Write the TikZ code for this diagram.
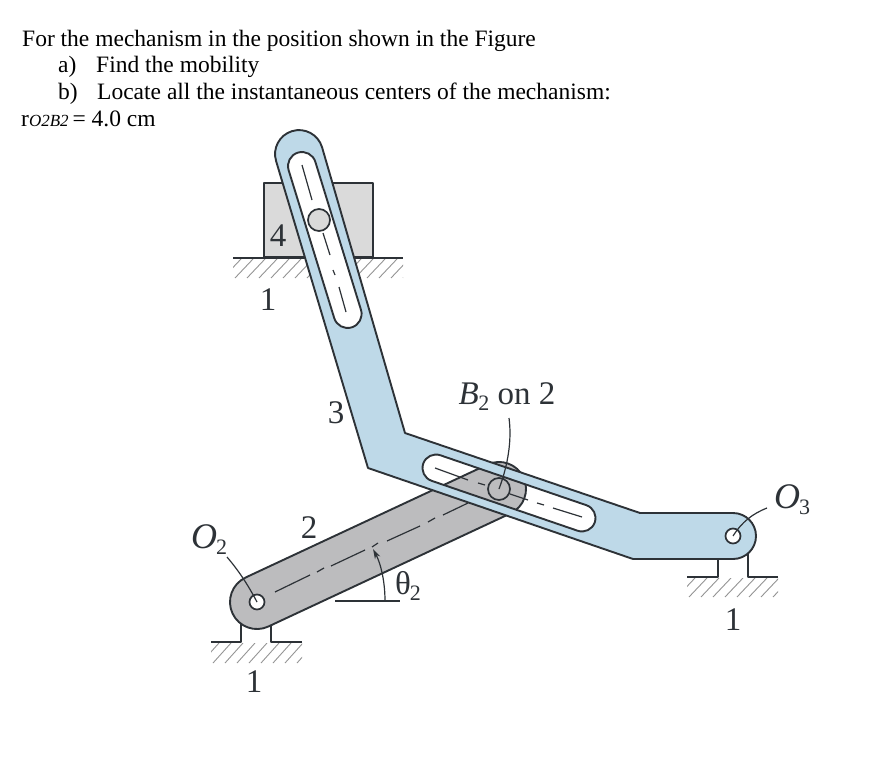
\documentclass[tikz,border=0pt]{standalone}
\usepackage{fontspec}
\setmainfont{Liberation Serif}
\usetikzlibrary{arrows.meta}
\definecolor{linkblue}{RGB}{190,217,232}
\definecolor{linkgray}{RGB}{188,188,190}
\definecolor{blockgray}{RGB}{218,218,218}
\definecolor{ink}{RGB}{45,50,55}
\tikzset{
  outline/.style={draw=ink,line width=1.9pt,line join=round},
  thinline/.style={draw=ink,line width=1.2pt},
  hatchline/.style={draw=black!42,line width=0.9pt},
  prose/.style={anchor=base west,inner sep=0pt,font=\fontsize{23.5}{24}\selectfont,text=black},
  lbl/.style={inner sep=0pt,font=\fontsize{33}{33}\selectfont,text=ink},
  pinhole/.style={circle,draw=ink,line width=1.7pt,fill=white,minimum size=#1,inner sep=0pt},
}
\newcommand{\hatchband}[4]{%
  \begin{scope}
    \clip (#1,#3) rectangle (#2,#4);
    \foreach \hx in {0,12,...,192}{\draw[hatchline] (#1+\hx-10,#4) -- (#1+\hx+8,#3);}
  \end{scope}}
\newcommand{\subnum}[1]{\raisebox{-6pt}{\fontsize{22}{22}\selectfont\upshape #1}}
\begin{document}
\begin{tikzpicture}[x=1pt,y=-1pt]
\useasboundingbox (0,0) rectangle (884,768);
% text block
\node[prose] (t1) at (22,46.5) {For the mechanism in the position shown in the Figure};
\node[prose] (t2a) at (58,73) {a)};
\node[prose] (t2b) at (96,73) {Find the mobility};
\node[prose] (t3a) at (58,99.5) {b)};
\node[prose] (t3b) at (97,99.5) {Locate all the instantaneous centers of the mechanism:};
\node[prose] (t4) at (21,126) {r{\fontsize{17}{17}\selectfont\itshape O2B2}{\,}= 4.0 cm};
% ground under block
\hatchband{233}{403}{259}{278}
\draw[outline] (233,258) -- (403,258);
% block 4
\draw[outline,fill=blockgray] (264,183) rectangle (373,257);
% O2 ground
\hatchband{211}{302}{643}{663}
\draw[outline] (211,642) -- (241,642) -- (241,610);
\draw[outline] (302,642) -- (271,642) -- (271,610);
% O3 ground
\hatchband{687}{778}{578}{597}
\draw[outline] (687,577) -- (718,577) -- (718,550);
\draw[outline] (778,577) -- (748,577) -- (748,550);
% link 2
\draw[outline,fill=linkgray] (245.6,577.5) -- (487.6,464.5) arc[start angle=245,end angle=425,radius=27]
  -- (268.4,626.5) arc[start angle=65,end angle=245,radius=27] -- cycle;
% link 2 centre line
\foreach \a/\b/\c/\d in {275/592/310/575,317/572/324/568,331/566/365/550,372/547/378/543,387/541/420/526,428/522/435/518,443/515/468/503}
  {\draw[thinline] (\a,\b) -- (\c,\d);}
% link 3 with lower slot as a hole
\draw[outline,fill=linkblue,even odd rule]
  (276.1,161.1) arc[start angle=163,end angle=343,radius=24]
  -- (405,433) -- (640,513) -- (733,513) arc[start angle=270,end angle=450,radius=23]
  -- (633,559) -- (368,468) -- cycle
  (431.6,480.8) arc[start angle=109,end angle=289,radius=13.5]
  -- (586.4,505.2) arc[start angle=289,end angle=469,radius=13.5] -- cycle;
% upper slot
\draw[outline,fill=white]
  (288.6,170.1) arc[start angle=163,end angle=343,radius=14]
  -- (361,309.9) arc[start angle=-17,end angle=163,radius=14] -- cycle;
% slot centre lines
\foreach \a/\b/\c/\d in {302/165/312/200,323/233/330/255,333/270/335/275,339/287/346/312,
  435/468/468/480,478/483/485/485,510/494/528/500,537/503/544/505,553/508/582/517}
  {\draw[thinline] (\a,\b) -- (\c,\d);}
% pins
\node[pinhole=22pt,fill=blockgray] (pin4) at (319,220) {};
\node[pinhole=22pt,fill=linkgray] (pinB) at (499,489) {};
\node[pinhole=15pt] (pinO2) at (257,602) {};
\node[pinhole=15pt] (pinO3) at (733,536) {};
% labels
\node[lbl] (n4) at (278,236) {4};
\node[lbl] (g4) at (268,300) {1};
\node[lbl] (n3) at (336,413) {3};
\node[lbl] (n2) at (309,528) {2};
\node[lbl] (g2) at (254,682) {1};
\node[lbl] (g3) at (733,620) {1};
\node[lbl] (lO2) at (209,540) {\fontsize{36}{36}\selectfont\itshape O\kern-1pt\subnum{2}};
\node[lbl] (lO3) at (792,500) {\fontsize{36}{36}\selectfont\itshape O\kern-1pt\subnum{3}};
\node[lbl] (lB) at (507,397) {\itshape B\kern-0.5pt\subnum{2}\upshape\ on 2};
\node[lbl] (lT) at (408,586) {θ\kern-1pt\subnum{2}};
% leaders
\coordinate (fromO2) at (227,557);
\coordinate (fromO3) at (767,508);
\coordinate (fromB) at (509,418);
\draw[thinline] (fromO2) .. controls (238,570) and (247,583) .. (pinO2.center);
\draw[thinline] (fromO3) .. controls (752,514) and (742,522) .. (pinO3.center);
\draw[thinline] (fromB) .. controls (512,440) and (508,465) .. (pinB.center);
% angle
\coordinate (refS) at (335,601);
\coordinate (refE) at (400,601);
\coordinate (arcS) at (385,601);
\coordinate (arcE) at (373,549);
\draw[thinline] (refS) -- (refE);
\draw[thinline,-{Stealth[length=10pt,width=6pt]}] (arcS) .. controls (385,582) and (381,564) .. (arcE);
\end{tikzpicture}
\end{document}
